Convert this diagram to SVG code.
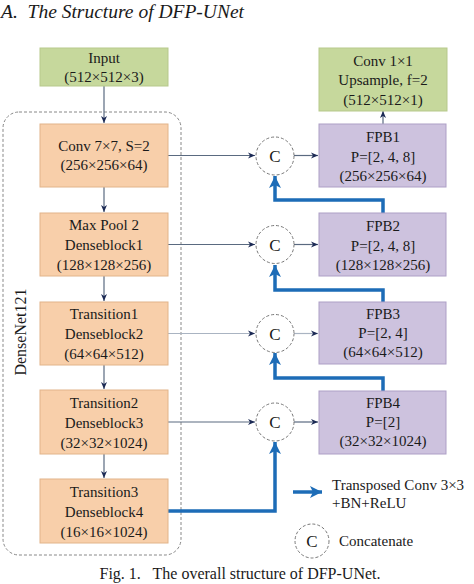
<svg xmlns="http://www.w3.org/2000/svg" width="474" height="584" viewBox="0 0 474 584">
<style>
text{font-family:"Liberation Serif","Times New Roman",serif;font-size:15px;fill:#1a1a1a}
.c{text-anchor:middle}
.g{fill:#c6d89c;stroke:#b7c98c;stroke-width:1}
.o{fill:#f8cfaa;stroke:#e2b48a;stroke-width:1}
.p{fill:#cdc2de;stroke:#ad9fc6;stroke-width:1}
.thin{stroke:#5a6a80;stroke-width:1.2;fill:none}
.blue{stroke:#1d6cb7;stroke-width:3.5;fill:none}
.circ{fill:#fff;stroke:#777;stroke-width:1;stroke-dasharray:3,2}
.cc{font-size:17px;text-anchor:middle}
</style>
<defs>
<marker id="ah" markerWidth="8" markerHeight="8" refX="7" refY="4" orient="auto" markerUnits="userSpaceOnUse">
<path d="M0,1 L7,4 L0,7 L2,4 Z" fill="#1c2a55"/>
</marker>
<marker id="bh" markerWidth="14" markerHeight="14" refX="12" refY="7" orient="auto" markerUnits="userSpaceOnUse">
<path d="M0,1 L12,7 L0,13 L3,7 Z" fill="#1d6cb7"/>
</marker>
</defs>
<text x="1" y="18" xml:space="preserve" style="font-style:italic;font-size:19.5px">A.  The Structure of DFP-UNet</text>
<rect x="3" y="112" width="178" height="443" rx="16" fill="none" stroke="#888" stroke-width="1" stroke-dasharray="3,2"/>
<text transform="translate(26,332) rotate(-90)" class="c" style="font-size:16px">DenseNet121</text>
<g id="connectors">
<line class="thin" x1="104" y1="86" x2="104" y2="123" marker-end="url(#ah)"/>
<line class="thin" x1="104" y1="187" x2="104" y2="212" marker-end="url(#ah)"/>
<line class="thin" x1="104" y1="276" x2="104" y2="301" marker-end="url(#ah)"/>
<line class="thin" x1="104" y1="365" x2="104" y2="389" marker-end="url(#ah)"/>
<line class="thin" x1="104" y1="454" x2="104" y2="478" marker-end="url(#ah)"/>
<line class="thin" x1="168" y1="155.5" x2="255" y2="155.5" marker-end="url(#ah)"/>
<line class="thin" x1="168" y1="244.5" x2="255" y2="244.5" marker-end="url(#ah)"/>
<line class="thin" x1="168" y1="333.5" x2="255" y2="333.5" marker-end="url(#ah)" style="stroke:#aab4c2"/>
<line class="thin" x1="168" y1="422" x2="255" y2="422" marker-end="url(#ah)"/>
<line class="thin" x1="294" y1="155.5" x2="318" y2="155.5" marker-end="url(#ah)"/>
<line class="thin" x1="294" y1="244.5" x2="318" y2="244.5" marker-end="url(#ah)"/>
<line class="thin" x1="294" y1="333.5" x2="318" y2="333.5" marker-end="url(#ah)" style="stroke:#aab4c2"/>
<line class="thin" x1="294" y1="422" x2="318" y2="422" marker-end="url(#ah)"/>
<line class="thin" x1="383" y1="124" x2="383" y2="111" marker-end="url(#ah)"/>
<polyline class="blue" points="383,213 383,200 275,200 275,176" marker-end="url(#bh)"/>
<polyline class="blue" points="383,302 383,290 275,290 275,265" marker-end="url(#bh)"/>
<polyline class="blue" points="383,391 383,378 275,378 275,353" marker-end="url(#bh)"/>
<polyline class="blue" points="168,511 275,511 275,442" marker-end="url(#bh)"/>
</g>
<g id="input"><rect class="g" x="40" y="48" width="128" height="38"/><text class="c" x="104" y="63">Input</text><text class="c" x="104" y="82">(512×512×3)</text></g>
<g id="conv7"><rect class="o" x="40" y="124" width="128" height="63"/><text class="c" x="104" y="151">Conv 7×7, S=2</text><text class="c" x="104" y="170">(256×256×64)</text></g>
<g id="maxpool"><rect class="o" x="40" y="213" width="128" height="63"/><text class="c" x="104" y="230">Max Pool 2</text><text class="c" x="104" y="250">Denseblock1</text><text class="c" x="104" y="270">(128×128×256)</text></g>
<g id="trans1"><rect class="o" x="40" y="302" width="128" height="63"/><text class="c" x="104" y="319">Transition1</text><text class="c" x="104" y="339">Denseblock2</text><text class="c" x="104" y="359">(64×64×512)</text></g>
<g id="trans2"><rect class="o" x="40" y="390" width="128" height="64"/><text class="c" x="104" y="408">Transition2</text><text class="c" x="104" y="428">Denseblock3</text><text class="c" x="104" y="448">(32×32×1024)</text></g>
<g id="trans3"><rect class="o" x="40" y="479" width="128" height="64"/><text class="c" x="104" y="497">Transition3</text><text class="c" x="104" y="517">Denseblock4</text><text class="c" x="104" y="537">(16×16×1024)</text></g>
<g id="conv1"><rect class="g" x="319" y="48" width="128" height="63"/><text class="c" x="383" y="66">Conv 1×1</text><text class="c" x="383" y="85">Upsample, f=2</text><text class="c" x="383" y="105">(512×512×1)</text></g>
<g id="fpb1"><rect class="p" x="319" y="124" width="127" height="63"/><text class="c" x="383" y="142">FPB1</text><text class="c" x="383" y="162">P=[2, 4, 8]</text><text class="c" x="383" y="181">(256×256×64)</text></g>
<g id="fpb2"><rect class="p" x="319" y="213" width="127" height="63"/><text class="c" x="383" y="231">FPB2</text><text class="c" x="383" y="251">P=[2, 4, 8]</text><text class="c" x="383" y="270">(128×128×256)</text></g>
<g id="fpb3"><rect class="p" x="319" y="302" width="127" height="62"/><text class="c" x="383" y="319">FPB3</text><text class="c" x="383" y="338">P=[2, 4]</text><text class="c" x="383" y="357">(64×64×512)</text></g>
<g id="fpb4"><rect class="p" x="319" y="391" width="127" height="63"/><text class="c" x="383" y="408">FPB4</text><text class="c" x="383" y="427">P=[2]</text><text class="c" x="383" y="446">(32×32×1024)</text></g>
<g id="c1"><circle class="circ" cx="275" cy="156" r="19"/><text class="cc" x="275" y="162">C</text></g>
<g id="c2"><circle class="circ" cx="275" cy="244.5" r="19"/><text class="cc" x="275" y="250.5">C</text></g>
<g id="c3"><circle class="circ" cx="275" cy="333.5" r="19"/><text class="cc" x="275" y="339.5">C</text></g>
<g id="c4"><circle class="circ" cx="275" cy="422" r="19"/><text class="cc" x="275" y="428">C</text></g>
<g id="legend">
<line class="blue" x1="293" y1="492" x2="322" y2="492" marker-end="url(#bh)"/>
<text x="332" y="490">Transposed Conv 3×3</text>
<text x="332" y="508">+BN+ReLU</text>
<circle class="circ" cx="312" cy="541" r="17"/><text class="cc" x="312" y="547">C</text>
<text x="339" y="546">Concatenate</text>
</g>
<text class="c" x="240" y="579" xml:space="preserve" style="font-size:16px">Fig. 1.   The overall structure of DFP-UNet.</text>
</svg>
